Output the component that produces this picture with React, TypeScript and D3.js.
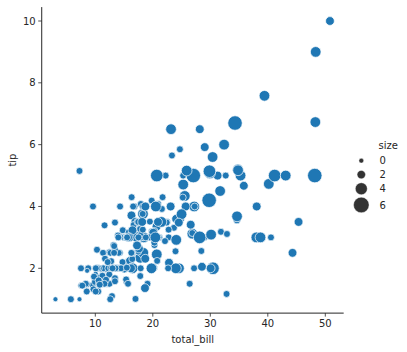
import React from "react";
import * as d3 from "d3";

const totalBill = [
16.99,10.34,21.01,23.68,24.59,25.29,8.77,26.88,15.04,14.78,10.27,35.26,15.42,18.43,14.83,21.58,10.33,16.29,16.97,20.65,
17.92,20.29,15.77,39.42,19.82,17.81,13.37,12.69,21.7,19.65,9.55,18.35,15.06,20.69,17.78,24.06,16.31,16.93,18.69,31.27,
16.04,17.46,13.94,9.68,30.4,18.29,22.23,32.4,28.55,18.04,12.54,10.29,34.81,9.94,25.56,19.49,38.01,26.41,11.24,48.27,
20.29,13.81,11.02,18.29,17.59,20.08,16.45,3.07,20.23,15.01,12.02,17.07,26.86,25.28,14.73,10.51,17.92,27.2,22.76,17.29,
19.44,16.66,10.07,32.68,15.98,34.83,13.03,18.28,24.71,21.16,28.97,22.49,5.75,16.32,22.75,40.17,27.28,12.03,21.01,12.46,
11.35,15.38,44.3,22.42,20.92,15.36,20.49,25.21,18.24,14.31,14.0,7.25,38.07,23.95,25.71,17.31,29.93,10.65,12.43,24.08,
11.69,13.42,14.26,15.95,12.48,29.8,8.52,14.52,11.38,22.82,19.08,20.27,11.17,12.26,18.26,8.51,10.33,14.15,16.0,13.16,
17.47,34.3,41.19,27.05,16.43,8.35,18.64,11.87,9.78,7.51,14.07,13.13,17.26,24.55,19.77,29.85,48.17,25.0,13.39,16.49,
21.5,12.66,16.21,13.81,17.51,24.52,20.76,31.71,10.59,10.63,50.81,15.81,7.25,31.85,16.82,32.9,17.89,14.48,9.6,34.63,
34.65,23.33,45.35,23.17,40.55,20.69,20.9,30.46,18.15,23.1,15.69,19.81,28.44,15.48,16.58,7.56,10.34,43.11,13.0,13.51,
18.71,12.74,13.0,16.4,20.53,16.47,26.59,38.73,24.27,12.76,30.06,25.89,48.33,13.27,28.17,12.9,28.15,11.59,7.74,30.14,
12.16,13.42,8.58,15.98,13.42,16.27,10.09,20.45,13.28,22.12,24.01,15.69,11.61,10.77,15.53,10.07,12.6,32.83,35.83,29.03,
27.18,22.67,17.82,18.78
];
const tip = [
1.01,1.66,3.5,3.31,3.61,4.71,2.0,3.12,1.96,3.23,1.71,5.0,1.57,3.0,3.02,3.92,1.67,3.71,3.5,3.35,
4.08,2.75,2.23,7.58,3.18,2.34,2.0,2.0,4.3,3.0,1.45,2.5,3.0,2.45,3.27,3.6,2.0,3.07,2.31,5.0,
2.24,2.54,3.06,1.32,5.6,3.0,5.0,6.0,2.05,3.0,2.5,2.6,5.2,1.56,4.34,3.51,3.0,1.5,1.76,6.73,
3.21,2.0,1.98,3.76,2.64,3.15,2.47,1.0,2.01,2.09,1.97,3.0,3.14,5.0,2.2,1.25,3.08,4.0,3.0,2.71,
3.0,3.4,1.83,5.0,2.03,5.17,2.0,4.0,5.85,3.0,3.0,3.5,1.0,4.3,3.25,4.73,4.0,1.5,3.0,1.5,
2.5,3.0,2.5,3.48,4.08,1.64,4.06,4.29,3.76,4.0,3.0,1.0,4.0,2.55,4.0,3.5,5.07,1.5,1.8,2.92,
2.31,1.68,2.5,2.0,2.52,4.2,1.48,2.0,2.0,2.18,1.5,2.83,1.5,2.0,3.25,1.25,2.0,2.0,2.0,2.75,
3.5,6.7,5.0,5.0,2.3,1.5,1.36,1.63,1.73,2.0,2.5,2.0,2.74,2.0,2.0,5.14,5.0,3.75,2.61,2.0,
3.5,2.5,2.0,2.0,3.0,3.48,2.24,4.5,1.61,2.0,10.0,3.16,5.15,3.18,4.0,3.11,2.0,2.0,4.0,3.55,
3.68,5.65,3.5,6.5,3.0,5.0,3.5,2.0,3.5,4.0,1.5,4.19,2.56,2.02,4.0,1.44,2.0,5.0,2.0,2.0,
4.0,2.01,2.0,2.5,4.0,3.23,3.41,3.0,2.03,2.23,2.0,5.16,9.0,2.5,6.5,1.1,3.0,1.5,1.44,3.09,
2.2,3.48,1.92,3.0,1.58,2.5,2.0,3.0,2.72,2.88,2.0,3.0,3.39,1.47,3.0,1.25,1.0,1.17,4.67,5.92,
2.0,2.0,1.75,3.0
];
const size = [
2,3,3,2,4,4,2,4,2,2,2,4,2,4,2,2,3,3,3,3,
2,2,2,4,2,4,2,2,2,2,2,4,2,4,2,3,3,3,3,3,
3,2,2,2,4,2,2,4,3,2,2,2,4,2,4,2,4,2,2,4,
2,2,2,4,3,3,2,1,2,2,2,3,2,2,2,2,2,4,2,2,
2,2,1,2,2,4,2,2,2,2,2,2,2,2,2,4,2,2,2,2,
2,2,3,2,2,2,2,2,2,2,2,1,3,2,3,2,4,2,2,4,
2,2,2,2,2,6,2,2,2,3,2,2,2,2,2,2,2,2,2,2,
2,6,5,6,2,2,3,2,2,2,2,2,3,4,4,5,6,4,2,4,
4,2,3,2,2,3,2,4,2,2,3,2,2,2,2,2,2,2,2,2,
4,2,3,4,2,5,3,5,3,3,2,2,2,2,2,2,2,4,2,2,
3,2,2,2,4,3,3,4,2,2,3,4,4,2,3,2,5,2,2,4,
2,2,1,3,2,2,2,4,2,2,4,3,2,2,2,2,2,2,3,3,
2,2,2,2
];

const xTicks = [10, 20, 30, 40, 50];
const yTicks = [2, 4, 6, 8, 10];
const legendSizes = [0, 2, 4, 6];

const INK = "#262626";
const BLUE = "#1f77b4";
const FONT = "DejaVu Sans";

export default function App() {
  const x = d3.scaleLinear().domain([10, 50]).range([95.3, 325.3]);
  const y = d3.scaleLinear().domain([2, 10]).range([268.3, 21]);

  const [xmin, xmax] = d3.extent(totalBill) as [number, number];
  const [ymin, ymax] = d3.extent(tip) as [number, number];
  const xpad = (xmax - xmin) * 0.05;
  const ypad = (ymax - ymin) * 0.05;
  const left = x(xmin - xpad);
  const right = x(xmax + xpad);
  const top = y(ymax + ypad);
  const bottom = y(ymin - ypad);

  const dScale = d3.scaleLinear().domain([1, 6]).range([4.3, 13.8]);
  const legScale = d3.scaleLinear().domain([0, 6]).range([4.8, 15.6]);

  const points = totalBill.map((b, i) => ({ b, t: tip[i], s: size[i] }));

  const legX = 361.3;
  const legTextX = 379.5;
  const rowH = legendSizes.map((s) => Math.max(11.5, legScale(s)));
  const legY: number[] = [];
  let cy = 160.7;
  rowH.forEach((h, i) => {
    if (i > 0) cy += (rowH[i - 1] + h) / 2 + 2.4;
    legY.push(cy);
  });

  return (
    <svg
      width={407}
      height={352}
      style={{ position: "absolute", left: 0, top: 0, background: "#fff" }}
      fontFamily={FONT}
    >
      <rect width={407} height={352} fill="#fff" />
      <g>
        {points.map((p, i) => (
          <circle
            key={i}
            cx={x(p.b)}
            cy={y(p.t)}
            r={dScale(p.s) / 2 + 0.35}
            fill={BLUE}
            stroke="#fff"
            strokeWidth={0.7}
          />
        ))}
      </g>
      <line x1={left} x2={left} y1={top} y2={bottom} stroke={INK} strokeWidth={1} />
      <line x1={left} x2={right} y1={bottom} y2={bottom} stroke={INK} strokeWidth={1} />
      {xTicks.map((t) => (
        <g key={t}>
          <line x1={x(t)} x2={x(t)} y1={bottom} y2={bottom + 3.5} stroke={INK} strokeWidth={0.8} />
          <text x={x(t)} y={bottom + 14} fontSize={10} textAnchor="middle" fill={INK}>
            {t}
          </text>
        </g>
      ))}
      {yTicks.map((t) => (
        <g key={t}>
          <line x1={left} x2={left - 3.5} y1={y(t)} y2={y(t)} stroke={INK} strokeWidth={0.8} />
          <text x={left - 6} y={y(t)} dy="0.36em" fontSize={10} textAnchor="end" fill={INK}>
            {t}
          </text>
        </g>
      ))}
      <text x={(left + right) / 2} y={343} fontSize={10} textAnchor="middle" fill={INK}>
        total_bill
      </text>
      <text
        transform={`translate(15.5, ${(top + bottom) / 2}) rotate(-90)`}
        fontSize={10}
        textAnchor="middle"
        fill={INK}
      >
        tip
      </text>
      <text x={legTextX - 1} y={145.7} dy="0.36em" fontSize={10} fill={INK}>
        size
      </text>
      {legendSizes.map((s, i) => (
        <g key={s}>
          <circle cx={legX} cy={legY[i]} r={legScale(s) / 2} fill="#333333" stroke="#fff" strokeWidth={0.4} />
          <text x={legTextX} y={legY[i]} dy="0.36em" fontSize={10} fill={INK}>
            {s}
          </text>
        </g>
      ))}
    </svg>
  );
}
